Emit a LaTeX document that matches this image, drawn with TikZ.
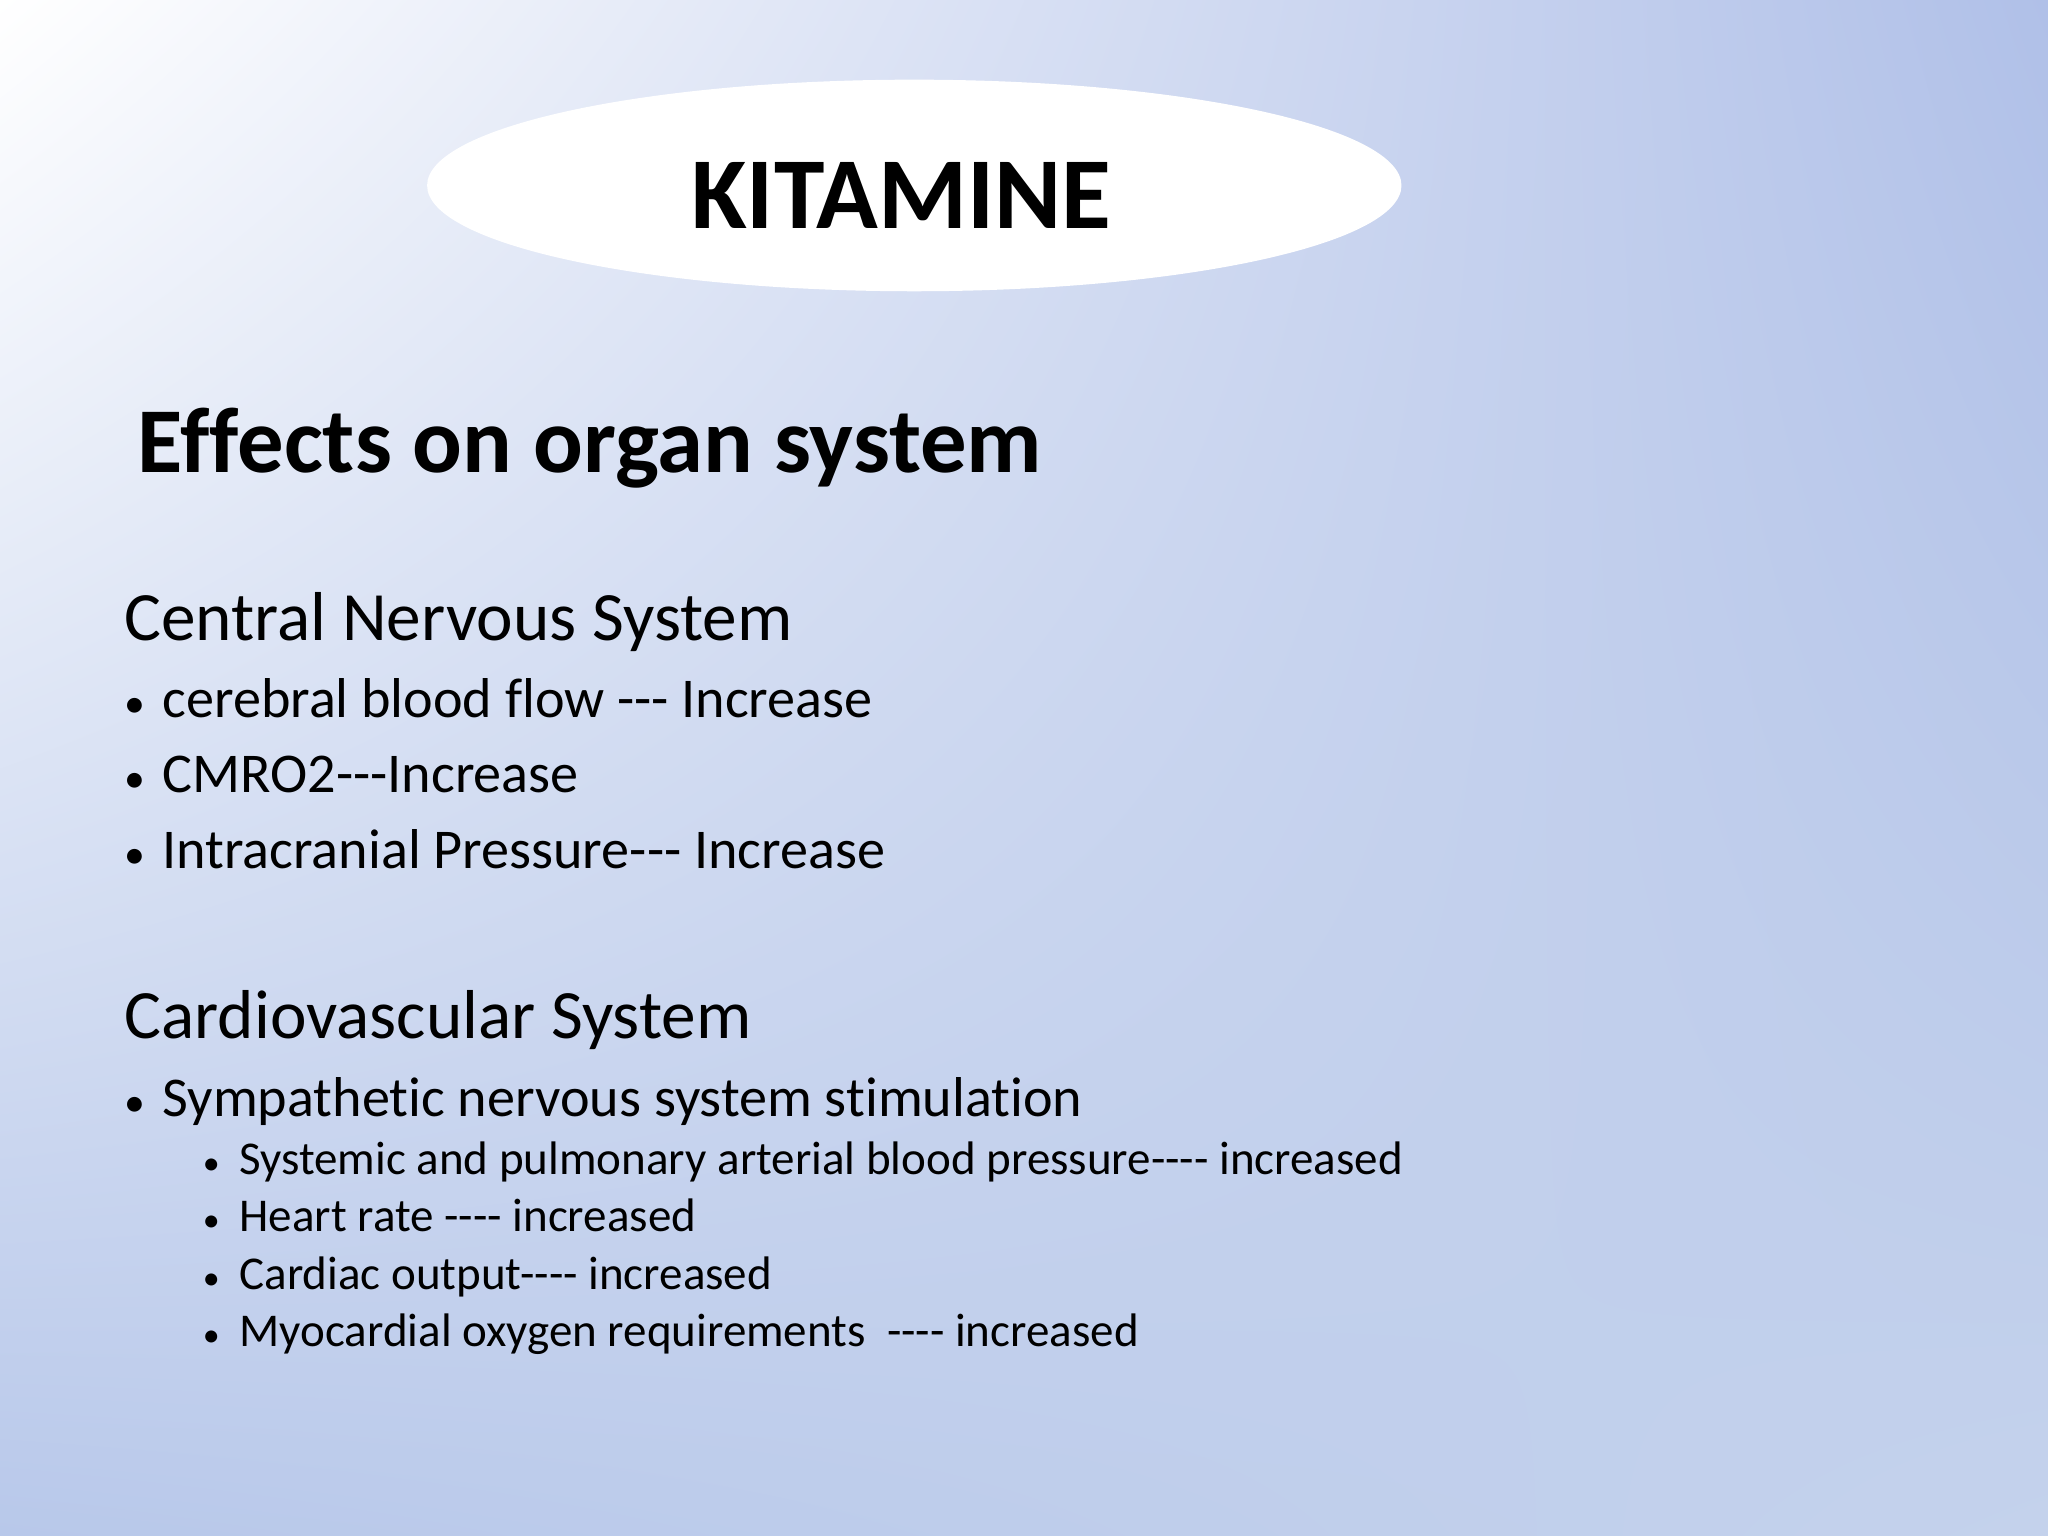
\documentclass[tikz,border=0pt]{standalone}
\usepackage{fontspec}
\setmainfont{Carlito}[Ligatures={TeXOff,CommonOff}]
\usetikzlibrary{shadings,shapes.geometric}
\begin{document}
\begin{tikzpicture}[x=0.5pt,y=-0.5pt,
  txt/.style={anchor=base west,inner sep=0pt},
  h2/.style={txt,font=\fontsize{26.5}{32}\selectfont},
  b1/.style={txt,font=\fontsize{21.5}{24}\selectfont},
  b2/.style={txt,font=\fontsize{18}{20}\selectfont},
  dot1/.style={txt,font=\fontsize{16}{20}\selectfont},
  dot2/.style={txt,font=\fontsize{13}{16}\selectfont}]
\useasboundingbox (0,0) rectangle (1568,1176);
\definecolor{tr}{RGB}{176,192,232}
\definecolor{bl}{RGB}{184,200,234}
\definecolor{br}{RGB}{196,210,236}
\shade[upper left=white, upper right=tr, lower left=bl, lower right=br] (0,0) rectangle (1568,1176);
\node[ellipse,fill=white,minimum width=373pt,minimum height=81pt,inner sep=0pt] (ell) at (700,142) {};
\node[anchor=base,inner sep=0pt,font=\fontsize{39}{46}\selectfont\bfseries] (title) at (690,175) {KITAMINE};
\node[txt,font=\fontsize{35.5}{42}\selectfont\bfseries] (eff) at (105,362) {Effects on organ system};
\node[h2] (cns) at (95,490) {Central Nervous System};
\node[dot1] (d1) at (95,549) {•}; \node[b1] (t1) at (124,549) {cerebral blood flow --- Increase};
\node[dot1] (d2) at (95,607) {•}; \node[b1] (t2) at (124,607) {CMRO2---Increase};
\node[dot1] (d3) at (95,665) {•}; \node[b1] (t3) at (124,665) {Intracranial Pressure--- Increase};
\node[h2] (cvs) at (95,795) {Cardiovascular System};
\node[dot1] (d4) at (95,855) {•}; \node[b1] (t4) at (124,855) {Sympathetic nervous system stimulation};
\node[dot2] (e1) at (155,899) {•}; \node[b2] (s1) at (183,899) {Systemic and pulmonary arterial blood pressure---- increased};
\node[dot2] (e2) at (155,943) {•}; \node[b2] (s2) at (183,943) {Heart rate ---- increased};
\node[dot2] (e3) at (155,987) {•}; \node[b2] (s3) at (183,987) {Cardiac output---- increased};
\node[dot2] (e4) at (155,1031) {•}; \node[b2] (s4) at (183,1031) {Myocardial oxygen requirements\ \ ---- increased};
\end{tikzpicture}
\end{document}
